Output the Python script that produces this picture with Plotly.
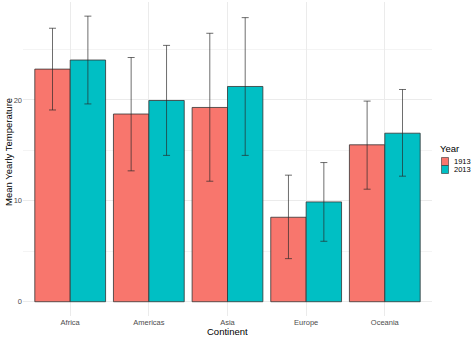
import plotly.graph_objects as go

# Mean yearly temperature by continent, 1913 vs 2013
continents = ["Africa", "Americas", "Asia", "Europe", "Oceania"]
years = ["1913", "2013"]
mean_1913 = [23.05, 18.6, 19.25, 8.37, 15.55]
mean_2013 = [23.95, 19.94, 21.33, 9.89, 16.7]
upper_1913 = [27.1, 24.2, 26.6, 12.54, 19.88]
lower_1913 = [19.0, 12.97, 11.94, 4.27, 11.15]
upper_2013 = [28.3, 25.4, 28.15, 13.79, 21.03]
lower_2013 = [19.6, 14.5, 14.5, 5.99, 12.44]
y_ticks = [0, 10, 20]

colors = {"1913": "#F8766D", "2013": "#00BFC4"}

W, H = 474, 338
ML, MR, MT, MB = 23, 42, 2, 22
PW, PH = W - ML - MR, H - MT - MB


def px_x(px):
    return (px - ML) / PW


def px_y(py):
    return (H - MB - py) / PH


fig = go.Figure()
series = [
    ("1913", mean_1913, upper_1913, lower_1913),
    ("2013", mean_2013, upper_2013, lower_2013),
]
for year, means, up, lo in series:
    fig.add_trace(go.Bar(
        x=continents,
        y=means,
        name=year,
        marker=dict(color=colors[year], line=dict(color="#333333", width=0.8)),
        error_y=dict(
            type="data",
            symmetric=False,
            array=[u - m for u, m in zip(up, means)],
            arrayminus=[m - l for m, l in zip(means, lo)],
            color="rgba(40,40,40,0.85)",
            thickness=0.8,
            width=3.5,
        ),
        showlegend=False,
    ))

font = "Liberation Sans, Arial, sans-serif"
fig.update_layout(
    width=W, height=H,
    margin=dict(l=ML, r=MR, t=MT, b=MB, pad=0),
    barmode="group", bargap=0.1, bargroupgap=0,
    plot_bgcolor="white", paper_bgcolor="white",
    font=dict(family=font, size=8, color="#4D4D4D"),
    xaxis=dict(
        range=[-0.6, 4.6], showgrid=True, gridcolor="#EBEBEB", gridwidth=0.8,
        showline=False, zeroline=False, ticks="",
        tickfont=dict(size=7.5, color="#4D4D4D"),
    ),
    yaxis=dict(
        range=[-1.415, 29.7], tickvals=y_ticks, showgrid=True,
        gridcolor="#EBEBEB", gridwidth=0.8, zeroline=False, showline=False,
        ticks="", tickfont=dict(size=7.5, color="#4D4D4D"),
        minor=dict(tickvals=[5, 15, 25], showgrid=True, gridcolor="#F4F4F4", gridwidth=0.5),
    ),
)

annotations = [
    dict(text="Continent", x=0.5, xref="paper", y=px_y(331), yref="paper",
         showarrow=False, font=dict(size=9.5, color="black", family=font),
         xanchor="center", yanchor="middle"),
    dict(text="Mean Yearly Temperature", x=px_x(8), xref="paper", y=px_y(152), yref="paper",
         showarrow=False, textangle=-90, font=dict(size=9.5, color="black", family=font),
         xanchor="center", yanchor="middle"),
    dict(text="Year", x=px_x(437.5), xref="paper", y=px_y(148), yref="paper",
         showarrow=False, font=dict(size=9.5, color="black", family=font),
         xanchor="left", yanchor="middle"),
]

shapes = []
key_top = 157.5
for i, year in enumerate(years):
    y0 = key_top + i * 8
    shapes.append(dict(
        type="rect", xref="paper", yref="paper",
        x0=px_x(441.5), x1=px_x(448.5), y0=px_y(y0 + 8), y1=px_y(y0),
        fillcolor=colors[year], line=dict(color="#333333", width=0.6),
    ))
    annotations.append(dict(
        text=year, x=px_x(452), xref="paper", y=px_y(y0 + 4), yref="paper",
        showarrow=False, font=dict(size=7.5, color="black", family=font),
        xanchor="left", yanchor="middle",
    ))

fig.update_layout(annotations=annotations, shapes=shapes)
fig.write_html("out.html")
